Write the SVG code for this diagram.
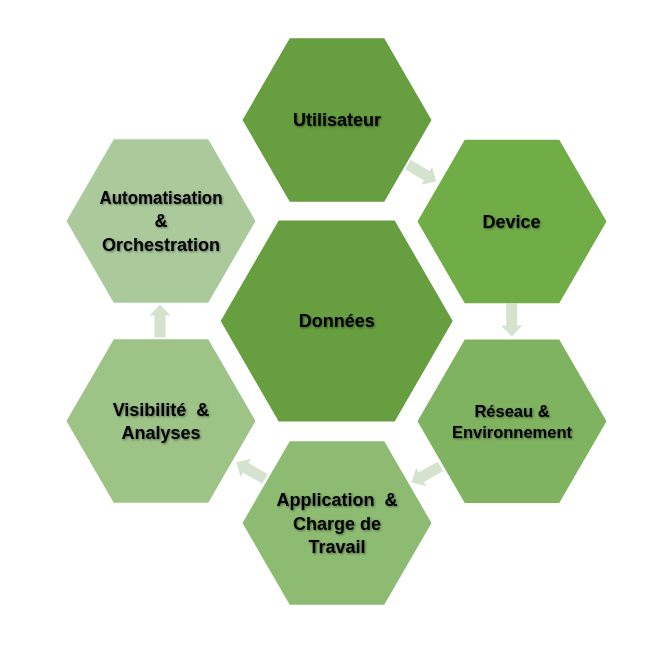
<svg xmlns="http://www.w3.org/2000/svg" xmlns:xlink="http://www.w3.org/1999/xlink" width="661" height="651" viewBox="0 0 661 651">
<defs>
<polygon id="hexS" points="-94.5,0 -47.25,-81.8 47.25,-81.8 94.5,0 47.25,81.8 -47.25,81.8"/>
<polygon id="hexL" points="-116,0 -58,-100.5 58,-100.5 116,0 58,100.5 -58,100.5"/>
<polygon id="arrow" points="-16.5,-5.5 5.5,-5.5 5.5,-10.5 16.5,0 5.5,10.5 5.5,5.5 -16.5,5.5"/>
<filter id="shadow" x="-20%" y="-40%" width="140%" height="180%">
<feDropShadow dx="1" dy="1" stdDeviation="0.9" flood-color="#000" flood-opacity="0.45"/>
</filter>
</defs>
<style>
.lbl{font-family:"Liberation Sans",Arial,sans-serif;font-weight:bold;font-size:18px;fill:#000;text-anchor:middle;filter:url(#shadow);white-space:pre}
.sm{font-size:16.5px}
.arr{fill:#D5E3CE}
</style>
<rect width="661" height="651" fill="#fff"/>
<g id="connectors">
<use xlink:href="#arrow" class="arr" transform="translate(422,173) rotate(31)"/>
<use xlink:href="#arrow" class="arr" transform="translate(511.7,320) rotate(90)"/>
<use xlink:href="#arrow" class="arr" transform="translate(426,474.5) rotate(151)"/>
<use xlink:href="#arrow" class="arr" transform="translate(250.5,470.5) rotate(210)"/>
<use xlink:href="#arrow" class="arr" transform="translate(160,321) rotate(-90)"/>
</g>
<g id="node-utilisateur">
<use xlink:href="#hexS" x="337" y="120" fill="#669E40"/>
<text class="lbl" x="337" y="126.4">Utilisateur</text>
</g>
<g id="node-device">
<use xlink:href="#hexS" x="512" y="221.5" fill="#70AD47"/>
<text class="lbl" x="511.5" y="227.5">Device</text>
</g>
<g id="node-reseau">
<use xlink:href="#hexS" x="512" y="421.3" fill="#7FB35F"/>
<text class="lbl sm" x="512" y="417.2">Réseau &amp;</text>
<text class="lbl sm" x="512" y="438.4">Environnement</text>
</g>
<g id="node-application">
<use xlink:href="#hexS" x="337" y="523" fill="#8CBB71"/>
<text class="lbl" x="337" y="506.4" xml:space="preserve">Application  &amp;</text>
<text class="lbl" x="337" y="529.6">Charge de</text>
<text class="lbl" x="337" y="553">Travail</text>
</g>
<g id="node-visibilite">
<use xlink:href="#hexS" x="161" y="421" fill="#9DC387"/>
<text class="lbl" x="161" y="415.8" xml:space="preserve">Visibilité  &amp;</text>
<text class="lbl" x="161" y="439.1">Analyses</text>
</g>
<g id="node-automatisation">
<use xlink:href="#hexS" x="161" y="221" fill="#ABCA9C"/>
<text class="lbl" x="161" y="204.2" textLength="123" lengthAdjust="spacingAndGlyphs">Automatisation</text>
<text class="lbl" x="161" y="226.6">&amp;</text>
<text class="lbl" x="161" y="251">Orchestration</text>
</g>
<g id="node-donnees">
<use xlink:href="#hexL" x="336.7" y="321" fill="#669E40"/>
<text class="lbl" x="336.7" y="327.4">Données</text>
</g>
</svg>
